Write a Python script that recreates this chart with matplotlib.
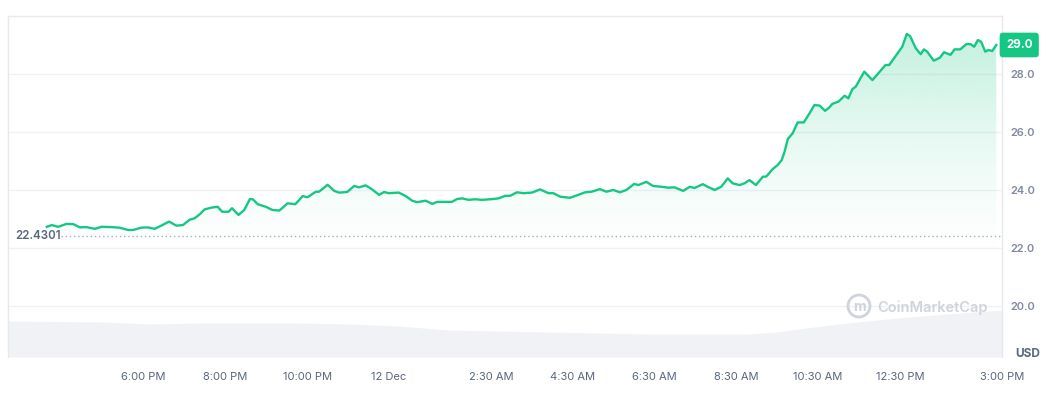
import numpy as np
import matplotlib.pyplot as plt
import matplotlib.transforms as mtransforms
from matplotlib.patches import Circle

# hours relative to midnight of 12 Dec, price in USD
hours = [-8.37, -8.25, -8.09, -7.89, -7.72, -7.56, -7.40, -7.20, -7.03, -6.79,
         -6.59, -6.38, -6.26, -6.06, -5.90, -5.73, -5.57, -5.38, -5.20, -5.04,
         -4.88, -4.76, -4.63, -4.51, -4.35, -4.19, -4.08, -3.92, -3.84, -3.68,
         -3.54, -3.40, -3.33, -3.21, -3.01, -2.85, -2.68, -2.48, -2.29, -2.11,
         -1.99, -1.79, -1.71, -1.50, -1.34, -1.22, -1.02, -0.85, -0.73, -0.57,
         -0.41, -0.24, -0.12, 0.00, 0.24, 0.41, 0.57, 0.69, 0.90, 1.06,
         1.18, 1.54, 1.67, 1.79, 1.95, 2.11, 2.28, 2.48, 2.68, 2.85,
         2.97, 3.13, 3.29, 3.50, 3.70, 3.90, 4.02, 4.19, 4.43, 4.63,
         4.80, 4.96, 5.16, 5.32, 5.49, 5.65, 5.81, 6.00, 6.10, 6.30,
         6.46, 6.67, 6.83, 6.99, 7.20, 7.36, 7.48, 7.68, 7.80, 7.97,
         8.13, 8.29, 8.41, 8.58, 8.70, 8.82, 8.98, 9.15, 9.23, 9.39,
         9.51, 9.61, 9.68, 9.76, 9.88, 10.00, 10.15, 10.29, 10.41, 10.54,
         10.67, 10.77, 10.85, 11.00, 11.15, 11.24, 11.34, 11.42, 11.63, 11.83,
         12.15, 12.24, 12.56, 12.67, 12.75, 12.89, 13.01, 13.09, 13.17, 13.33,
         13.48, 13.58, 13.74, 13.84, 13.98, 14.13, 14.23, 14.32, 14.41, 14.49,
         14.59, 14.67, 14.76, 14.86]
price = [22.73, 22.79, 22.73, 22.83, 22.82, 22.71, 22.72, 22.66, 22.73, 22.72,
         22.70, 22.62, 22.62, 22.70, 22.71, 22.66, 22.77, 22.91, 22.77, 22.79,
         22.97, 23.02, 23.16, 23.33, 23.39, 23.42, 23.25, 23.25, 23.37, 23.14,
         23.31, 23.69, 23.68, 23.51, 23.42, 23.31, 23.29, 23.54, 23.51, 23.79,
         23.75, 23.94, 23.94, 24.18, 23.97, 23.91, 23.93, 24.14, 24.09, 24.16,
         24.02, 23.83, 23.93, 23.89, 23.91, 23.79, 23.63, 23.58, 23.63, 23.52,
         23.59, 23.59, 23.69, 23.71, 23.66, 23.68, 23.66, 23.68, 23.71, 23.80,
         23.80, 23.92, 23.89, 23.91, 24.02, 23.89, 23.89, 23.77, 23.73, 23.83,
         23.92, 23.94, 24.03, 23.94, 24.00, 23.92, 24.00, 24.21, 24.17, 24.28,
         24.14, 24.11, 24.08, 24.09, 23.97, 24.11, 24.07, 24.20, 24.11, 24.00,
         24.11, 24.40, 24.23, 24.17, 24.23, 24.34, 24.17, 24.46, 24.46, 24.72,
         24.86, 25.03, 25.32, 25.76, 25.96, 26.33, 26.33, 26.64, 26.93, 26.91,
         26.73, 26.84, 26.97, 27.05, 27.25, 27.16, 27.48, 27.56, 28.08, 27.79,
         28.31, 28.31, 28.94, 29.38, 29.31, 28.89, 28.68, 28.85, 28.77, 28.46,
         28.56, 28.75, 28.66, 28.85, 28.85, 29.03, 29.03, 28.94, 29.17, 29.11,
         28.77, 28.83, 28.79, 29.00]
ref_price = 22.4301

# trading volume (arbitrary units) along the bottom strip
vol_hours = [-9.32, -7.07, -5.85, -4.63, -3.41, -2.20, -0.98, 0.24, 1.46, 2.68,
             3.90, 5.12, 6.34, 7.56, 8.78, 9.51, 10.00, 11.22, 12.44, 13.66, 15.0]
volume = [36, 35, 33, 34, 34, 34, 33, 31, 27, 26,
          25, 24, 23, 23, 23, 25, 28, 34, 39, 43, 47]

tick_hours = [-6, -4, -2, 0, 2.5, 4.5, 6.5, 8.5, 10.5, 12.5, 15]
tick_labels = ['6:00 PM', '8:00 PM', '10:00 PM', '12 Dec', '2:30 AM', '4:30 AM',
               '6:30 AM', '8:30 AM', '10:30 AM', '12:30 PM', '3:00 PM']
price_ticks = [20, 22, 24, 26, 28]

plt.rcParams['font.family'] = ['Inter', 'DejaVu Sans']
green = '#16c784'
grid_c = '#eff2f5'
wm_c = '#cfd4dc'

fig = plt.figure(figsize=(10.58, 3.96), dpi=100)
rect = [8 / 1058, 39 / 396, 994 / 1058, 341 / 396]

# volume strip drawn in its own axes behind the price
ax_v = fig.add_axes(rect)
ax_v.fill_between(vol_hours, volume, 0, color='#f0f2f5', lw=0)
ax_v.set_xlim(-9.32, 15.0)
ax_v.set_ylim(0, 341)
ax_v.axis('off')

ax = fig.add_axes(rect, sharex=ax_v)
ax.set_facecolor('none')
ymin, ymax = 18.24, 30.0

# gradient fill under the price line
xs = np.array(hours)
ys = np.array(price)
poly = ax.fill_between(xs, ys, ymin, facecolor='none', edgecolor='none')
rgb = np.array([0x16, 0xc7, 0x84]) / 255
img = np.zeros((256, 1, 4))
img[..., :3] = rgb
img[..., 3] = np.linspace(0, 0.38, 256)[:, None] ** 1.4
im = ax.imshow(img, extent=[xs[0], xs[-1], 21.6, 29.4], origin='lower',
               aspect='auto', zorder=1)
im.set_clip_path(poly.get_paths()[0], transform=ax.transData)

ax.plot(xs, ys, color=green, lw=1.7, zorder=3, solid_joinstyle='round')

# opening price reference
blend = mtransforms.blended_transform_factory(ax.transAxes, ax.transData)
ax.axhline(ref_price, xmin=0.053, xmax=1, color='#a6b0c3', lw=1,
           linestyle=(0, (1, 2)), zorder=2)
ax.text(0.007, ref_price, '22.4301', transform=blend,
        ha='left', va='center', fontsize=8.3, color='#58667e', fontweight='semibold')

ax.set_xlim(-9.32, 15.0)
ax.set_ylim(ymin, ymax)
for v in price_ticks:
    ax.axhline(v, color=grid_c, lw=1, zorder=0)

ax.set_xticks(tick_hours)
ax.set_xticklabels(tick_labels)
ax.tick_params(axis='x', length=0, pad=11, labelsize=8, labelcolor='#58667e')
ax.yaxis.tick_right()
ax.set_yticks(price_ticks)
ax.set_yticklabels([f'{v:.1f}' for v in price_ticks])
ax.tick_params(axis='y', length=0, pad=6, labelsize=8, labelcolor='#808a9d')
for lab in ax.get_yticklabels():
    lab.set_fontweight('semibold')

for side in ['left', 'right', 'top']:
    ax.spines[side].set_color('#e6e9ee')
    ax.spines[side].set_linewidth(1)
ax.spines['bottom'].set_visible(False)

# current price tag
ax.text(1.004, price[-1], f'{price[-1]:.1f}', transform=blend,
        ha='left', va='center', fontsize=8.3, color='white', fontweight='bold',
        bbox=dict(boxstyle='round,pad=0.55,rounding_size=0.3', fc=green, ec='none'))

fig.text(1028 / 1058, 1 - 354 / 396, 'USD', ha='center', va='center',
         fontsize=8.5, fontweight='bold', color='#58667e')

# watermark
fig.patches.append(Circle((8.59, 0.90), 0.11, transform=fig.dpi_scale_trans,
                          fill=False, ec=wm_c, lw=2))
fig.text(859 / 1058, 1 - 307 / 396, 'm', ha='center', va='center', fontsize=10,
         fontweight='bold', color=wm_c)
fig.text(933 / 1058, 1 - 308 / 396, 'CoinMarketCap', ha='center', va='center',
         fontsize=10.5, fontweight='semibold', color=wm_c)

fig.savefig('out.png', dpi=100)
